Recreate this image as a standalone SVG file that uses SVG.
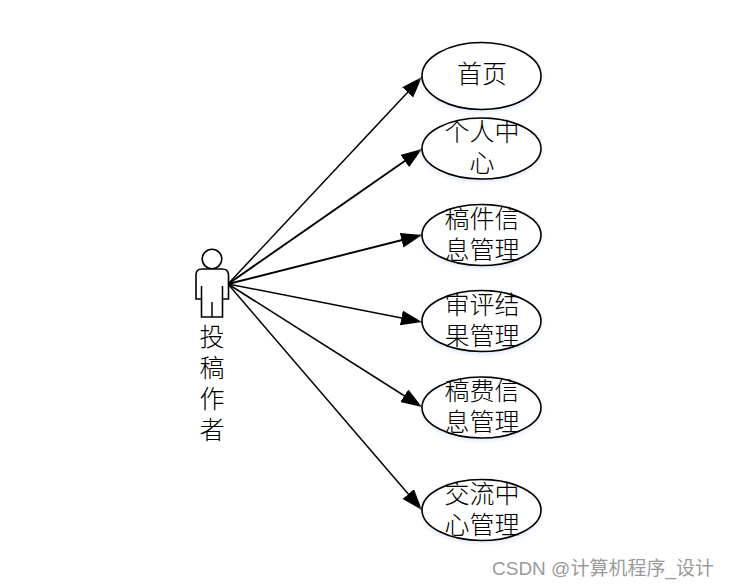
<svg xmlns="http://www.w3.org/2000/svg" width="729" height="588" viewBox="0 0 729 588">
<style>
.n{fill:#fff;stroke:#000;stroke-width:1.6}
.e{filter:drop-shadow(0 2px 2px #dfe9fb)}
.l{fill:none;stroke:#000;stroke-width:1.5}
.t{font-family:"Noto Sans CJK SC","Noto Sans",sans-serif;font-size:25px;font-weight:300;fill:#000;text-anchor:middle}
.w{font-family:"Liberation Sans","Noto Sans CJK SC",sans-serif;font-size:19px;fill:#9a9a9a}
</style>
<defs>
<marker id="a" markerUnits="userSpaceOnUse" markerWidth="22" markerHeight="16" refX="21" refY="7.5" orient="auto"><path d="M0 0L21 7.500L0 15Z" fill="#000"/></marker>
</defs>
<rect width="729" height="588" fill="#fff"/>
<g id="connectors">
<line class="l" x1="228" y1="284" x2="422" y2="77" marker-end="url(#a)"/>
<line class="l" x1="228" y1="284" x2="422" y2="149" marker-end="url(#a)" style="stroke-width:1.9"/>
<line class="l" x1="228" y1="284" x2="422" y2="235" marker-end="url(#a)" style="stroke-width:1.9"/>
<line class="l" x1="228" y1="284" x2="422" y2="322" marker-end="url(#a)"/>
<line class="l" x1="228" y1="284" x2="422" y2="407" marker-end="url(#a)"/>
<line class="l" x1="228" y1="284" x2="422" y2="510" marker-end="url(#a)"/>
</g>
<g id="actor">
<circle class="n" cx="212" cy="259" r="9.800"/>
<path class="n" d="M202 269H222Q228.500 269 228.500 275V299H222.500V317H201.500V299H196V275Q196 269 202 269Z"/>
<path class="l" d="M201.500 286V299M222.500 286V299M212 302V317"/>
<text class="t"><tspan x="212" y="346">投</tspan><tspan x="212" y="377">稿</tspan><tspan x="212" y="408">作</tspan><tspan x="212" y="439">者</tspan></text>
</g>
<g id="n1"><ellipse class="n e" cx="481.500" cy="76" rx="59.500" ry="33.500"/><text class="t" x="482" y="83">首页</text></g>
<g id="n2"><ellipse class="n e" cx="481.500" cy="148.500" rx="59.500" ry="30.500"/><text class="t"><tspan x="482" y="141">个人中</tspan><tspan x="482" y="172">心</tspan></text></g>
<g id="n3"><ellipse class="n e" cx="481.500" cy="235" rx="59.500" ry="30.500"/><text class="t"><tspan x="482" y="228">稿件信</tspan><tspan x="482" y="259">息管理</tspan></text></g>
<g id="n4"><ellipse class="n e" cx="481.500" cy="321" rx="59.500" ry="30.500"/><text class="t"><tspan x="482" y="314">审评结</tspan><tspan x="482" y="345">果管理</tspan></text></g>
<g id="n5"><ellipse class="n e" cx="481.500" cy="407.500" rx="59.500" ry="30.500"/><text class="t"><tspan x="482" y="400">稿费信</tspan><tspan x="482" y="431">息管理</tspan></text></g>
<g id="n6"><ellipse class="n e" cx="481.500" cy="510" rx="59.500" ry="30.500"/><text class="t"><tspan x="482" y="503">交流中</tspan><tspan x="482" y="534">心管理</tspan></text></g>
<text class="w" x="492" y="575">CSDN @计算机程序_设计</text>
</svg>
